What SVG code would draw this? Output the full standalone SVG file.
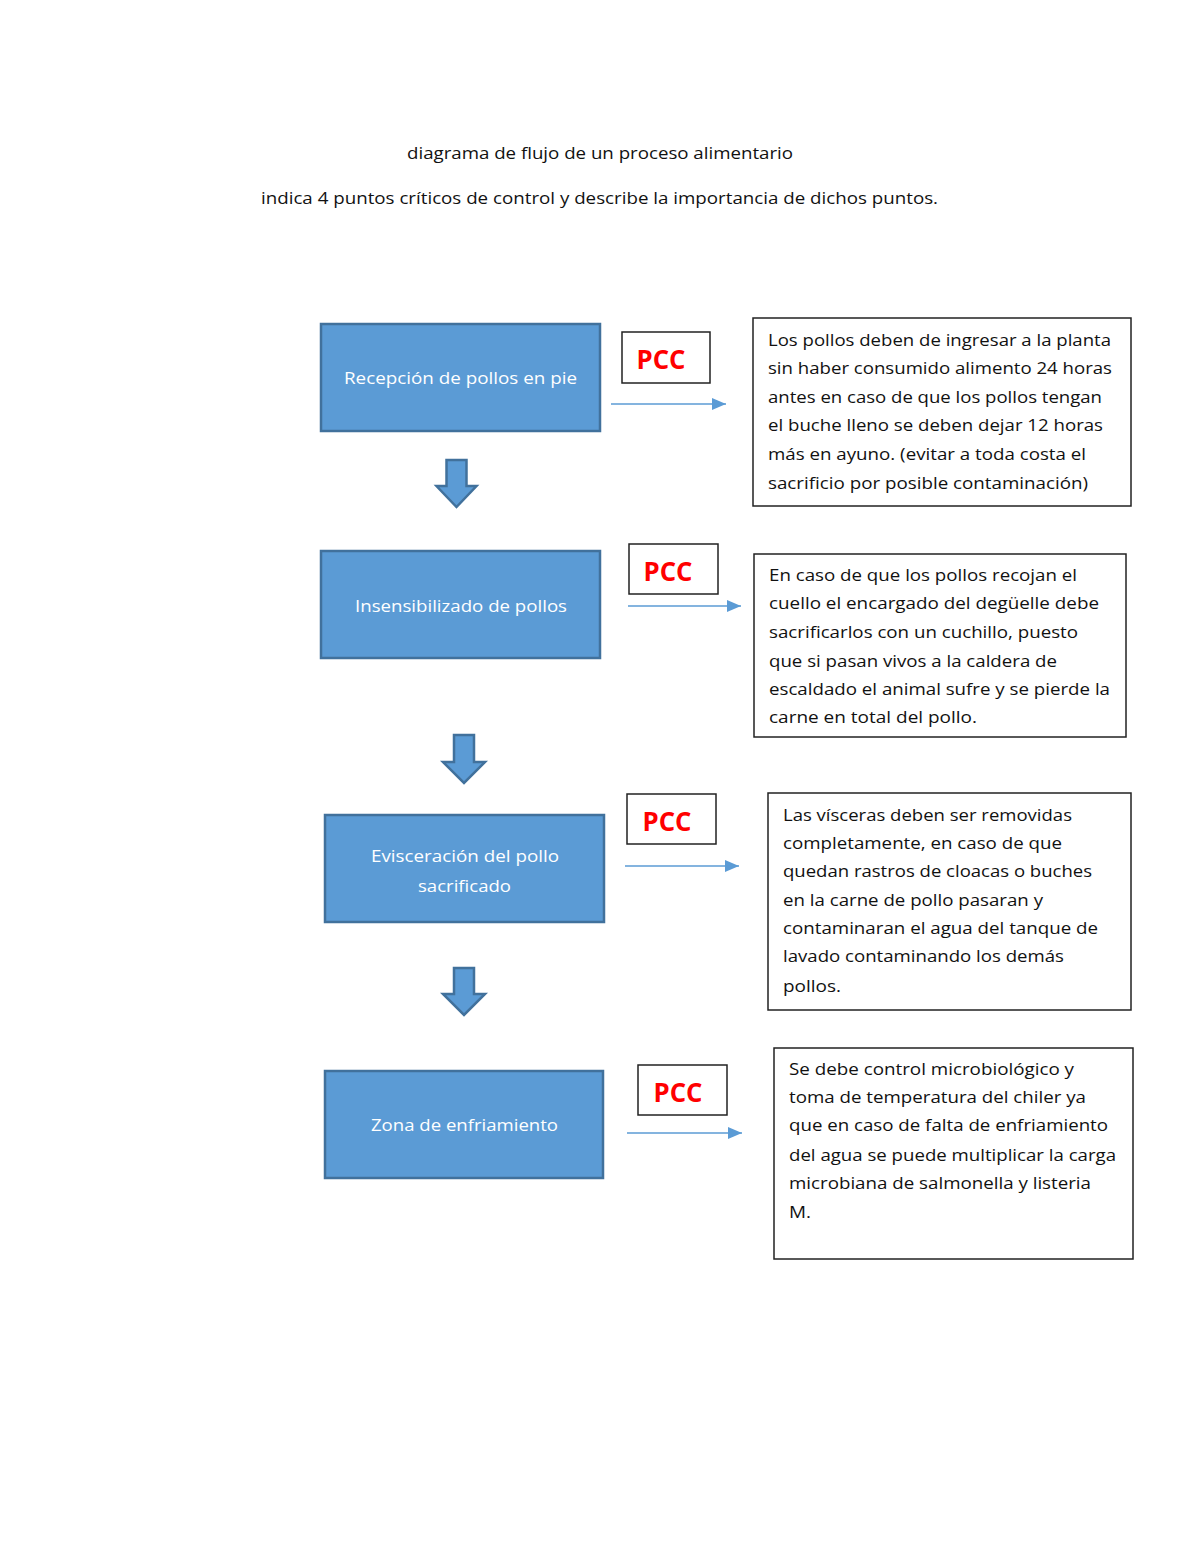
<svg xmlns="http://www.w3.org/2000/svg" width="1200" height="1553" viewBox="0 0 1200 1553">
<defs>
<style>
.bg{fill:#ffffff}
.node rect{fill:#5b9bd5;stroke:#41719c;stroke-width:2.5}
.node text{fill:#ffffff;font-family:"Open Sans","Liberation Sans",sans-serif;font-size:17px;text-anchor:middle}
.pcc rect{fill:#ffffff;stroke:#222222;stroke-width:1.5}
.pcc text{fill:#ff0000;font-family:"Open Sans","Liberation Sans",sans-serif;font-size:27px;font-weight:bold;text-anchor:middle}
.note rect{fill:#ffffff;stroke:#222222;stroke-width:1.5}
.note text{fill:#111111;font-family:"Open Sans","Liberation Sans",sans-serif;font-size:16.5px}
.title{fill:#111111;font-family:"Open Sans","Liberation Sans",sans-serif;font-size:17px}
.link{stroke:#5b9bd5;stroke-width:1.5;fill:none}
.block{fill:#5b9bd5;stroke:#41719c;stroke-width:2.5;stroke-linejoin:miter}
</style>
<marker id="ah" viewBox="0 0 14 12" refX="14" refY="6" markerWidth="14" markerHeight="12" markerUnits="userSpaceOnUse" orient="auto">
<path d="M0,0 L14,6 L0,12 Z" fill="#5b9bd5"/>
</marker>
</defs>
<rect class="bg" x="0" y="0" width="1200" height="1553"/>

<g id="titles">
<text class="title" x="600" y="159" text-anchor="middle" textLength="386" lengthAdjust="spacingAndGlyphs">diagrama de flujo de un proceso alimentario</text>
<text class="title" x="261" y="204" textLength="677" lengthAdjust="spacingAndGlyphs">indica 4 puntos críticos de control y describe la importancia de dichos puntos.</text>
</g>

<g id="node1" class="node">
<rect x="321" y="324" width="279" height="107"/>
<text x="460.5" y="384" textLength="233" lengthAdjust="spacingAndGlyphs">Recepción de pollos en pie</text>
</g>
<g id="node2" class="node">
<rect x="321" y="551" width="279" height="107"/>
<text x="461" y="612" textLength="212" lengthAdjust="spacingAndGlyphs">Insensibilizado de pollos</text>
</g>
<g id="node3" class="node">
<rect x="325" y="815" width="279" height="107"/>
<text x="465" y="862" textLength="188" lengthAdjust="spacingAndGlyphs">Evisceración del pollo</text>
<text x="464.5" y="892" textLength="93" lengthAdjust="spacingAndGlyphs">sacrificado</text>
</g>
<g id="node4" class="node">
<rect x="325" y="1071" width="278" height="107"/>
<text x="464.5" y="1131" textLength="187" lengthAdjust="spacingAndGlyphs">Zona de enfriamiento</text>
</g>

<g id="pcc1" class="pcc">
<rect x="622" y="332" width="88" height="51"/>
<text x="661" y="369" textLength="49" lengthAdjust="spacingAndGlyphs">PCC</text>
</g>
<g id="pcc2" class="pcc">
<rect x="629" y="544" width="89" height="50"/>
<text x="668" y="581" textLength="49" lengthAdjust="spacingAndGlyphs">PCC</text>
</g>
<g id="pcc3" class="pcc">
<rect x="627" y="794" width="89" height="50"/>
<text x="667" y="831" textLength="49" lengthAdjust="spacingAndGlyphs">PCC</text>
</g>
<g id="pcc4" class="pcc">
<rect x="638" y="1065" width="89" height="50"/>
<text x="678" y="1102" textLength="49" lengthAdjust="spacingAndGlyphs">PCC</text>
</g>

<g id="note1" class="note">
<rect x="753" y="318" width="378" height="188"/>
<text x="768" y="346" textLength="343" lengthAdjust="spacingAndGlyphs">Los pollos deben de ingresar a la planta</text>
<text x="768" y="374" textLength="344" lengthAdjust="spacingAndGlyphs">sin haber consumido alimento 24 horas</text>
<text x="768" y="403" textLength="334" lengthAdjust="spacingAndGlyphs">antes en caso de que los pollos tengan</text>
<text x="768" y="431" textLength="335" lengthAdjust="spacingAndGlyphs">el buche lleno se deben dejar 12 horas</text>
<text x="768" y="460" textLength="318" lengthAdjust="spacingAndGlyphs">más en ayuno. (evitar a toda costa el</text>
<text x="768" y="489" textLength="320" lengthAdjust="spacingAndGlyphs">sacrificio por posible contaminación)</text>
</g>
<g id="note2" class="note">
<rect x="754" y="554" width="372" height="183"/>
<text x="769" y="581" textLength="308" lengthAdjust="spacingAndGlyphs">En caso de que los pollos recojan el</text>
<text x="769" y="609" textLength="330" lengthAdjust="spacingAndGlyphs">cuello el encargado del degüelle debe</text>
<text x="769" y="638" textLength="309" lengthAdjust="spacingAndGlyphs">sacrificarlos con un cuchillo, puesto</text>
<text x="769" y="667" textLength="288" lengthAdjust="spacingAndGlyphs">que si pasan vivos a la caldera de</text>
<text x="769" y="695" textLength="341" lengthAdjust="spacingAndGlyphs">escaldado el animal sufre y se pierde la</text>
<text x="769" y="723" textLength="208" lengthAdjust="spacingAndGlyphs">carne en total del pollo.</text>
</g>
<g id="note3" class="note">
<rect x="768" y="793" width="363" height="217"/>
<text x="783" y="821" textLength="289" lengthAdjust="spacingAndGlyphs">Las vísceras deben ser removidas</text>
<text x="783" y="849" textLength="279" lengthAdjust="spacingAndGlyphs">completamente, en caso de que</text>
<text x="783" y="877" textLength="309" lengthAdjust="spacingAndGlyphs">quedan rastros de cloacas o buches</text>
<text x="783" y="906" textLength="260" lengthAdjust="spacingAndGlyphs">en la carne de pollo pasaran y</text>
<text x="783" y="934" textLength="315" lengthAdjust="spacingAndGlyphs">contaminaran el agua del tanque de</text>
<text x="783" y="962" textLength="281" lengthAdjust="spacingAndGlyphs">lavado contaminando los demás</text>
<text x="783" y="992" textLength="58" lengthAdjust="spacingAndGlyphs">pollos.</text>
</g>
<g id="note4" class="note">
<rect x="774" y="1048" width="359" height="211"/>
<text x="789" y="1075" textLength="285" lengthAdjust="spacingAndGlyphs">Se debe control microbiológico y</text>
<text x="789" y="1103" textLength="297" lengthAdjust="spacingAndGlyphs">toma de temperatura del chiler ya</text>
<text x="789" y="1131" textLength="319" lengthAdjust="spacingAndGlyphs">que en caso de falta de enfriamiento</text>
<text x="789" y="1161" textLength="327" lengthAdjust="spacingAndGlyphs">del agua se puede multiplicar la carga</text>
<text x="789" y="1189" textLength="302" lengthAdjust="spacingAndGlyphs">microbiana de salmonella y listeria</text>
<text x="789" y="1218" textLength="22" lengthAdjust="spacingAndGlyphs">M.</text>
</g>

<g id="connectors">
<line class="link" x1="611" y1="404" x2="726" y2="404" marker-end="url(#ah)"/>
<line class="link" x1="628" y1="606" x2="741" y2="606" marker-end="url(#ah)"/>
<line class="link" x1="625" y1="866" x2="739" y2="866" marker-end="url(#ah)"/>
<line class="link" x1="627" y1="1133" x2="742" y2="1133" marker-end="url(#ah)"/>
<path class="block" d="M446.5,460 L466.5,460 L466.5,486 L476.5,486 L456.5,507 L436.5,486 L446.5,486 Z"/>
<path class="block" d="M454,735 L474,735 L474,762 L485,762 L464,783 L443,762 L454,762 Z"/>
<path class="block" d="M454,968 L474,968 L474,994 L485,994 L464,1015 L443,994 L454,994 Z"/>
</g>
</svg>
